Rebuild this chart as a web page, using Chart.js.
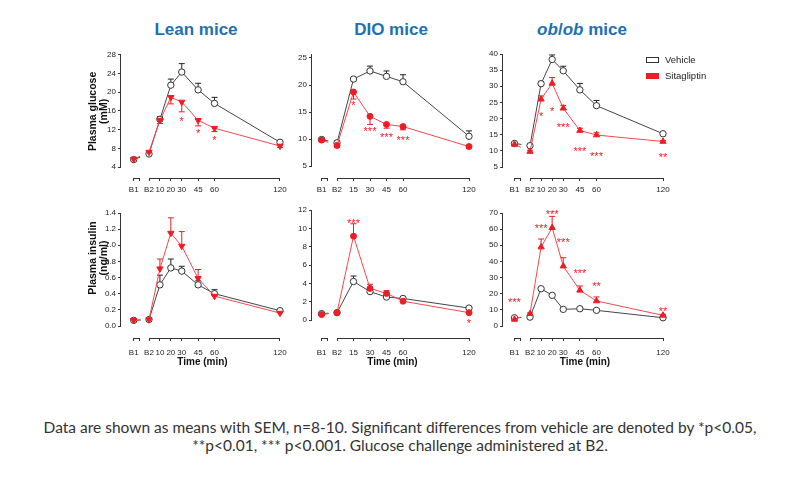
<!DOCTYPE html>
<html>
<head>
<meta charset="utf-8">
<script src="https://cdn.jsdelivr.net/npm/chart.js@4.4.1/dist/chart.umd.min.js"></script>
<style>
  body { margin: 0; width: 800px; height: 486px; background: #fff; position: relative; overflow: hidden; font-family: "Liberation Sans", Arial, sans-serif; }
  .head { position: absolute; top: 19px; width: 200px; text-align: center; font-weight: bold; font-size: 17px; line-height: 22px; color: #2070b4; }
  canvas { position: absolute; }
  .note { position: absolute; left: 0; top: 418px; width: 800px; text-align: center; font-family: Lato, sans-serif; font-size: 15.5px; line-height: 18px; color: #333; }
</style>
</head>
<body>
<div class="head" style="left:96px">Lean mice</div>
<div class="head" style="left:291px">DIO mice</div>
<div class="head" style="left:482px"><i>ob</i>/<i>ob</i> mice</div>

<canvas id="leanGlucose"></canvas>
<canvas id="dioGlucose"></canvas>
<canvas id="obGlucose"></canvas>
<canvas id="leanInsulin"></canvas>
<canvas id="dioInsulin"></canvas>
<canvas id="obInsulin"></canvas>

<div class="note">Data are shown as means with SEM, n=8-10. Significant differences from vehicle are denoted by *p&lt;0.05,<br>**p&lt;0.01, *** p&lt;0.001. Glucose challenge administered at B2.</div>

<script>
// time points (min), B1/B2 are baselines
const leanTimes = ['B1', 'B2', '10', '20', '30', '45', '60', '120'];
const dioTimes = ['B1', 'B2', '15', '30', '45', '60', '120'];
const obTimes = ['B1', 'B2', '10', '20', '30', '45', '60', '120'];

// plasma glucose (mM)
const leanGlucoseVehicle = [5.6, 6.8, 14.2, 21.5, 24.3, 20.5, 17.6, 9.3];
const leanGlucoseVehicleSem = [0.2, 0.3, 0.6, 1.3, 1.8, 1.4, 1.3, 0.4];
const leanGlucoseSita = [5.7, 7.2, 14.0, 18.9, 17.9, 14.0, 12.3, 8.5];
const leanGlucoseSitaSem = [0.2, 0.3, 0.7, 1.4, 2.1, 1.2, 0.7, 0.3];
const leanGlucoseStars = ['', '', '', '', '*', '*', '*', ''];
const leanGlucoseStarAt = [null, null, null, null, 14.3, 11.7, 10.3, null];

const dioGlucoseVehicle = [9.9, 9.3, 21.1, 22.6, 21.6, 20.6, 10.5];
const dioGlucoseVehicleSem = [0.3, 0.4, 0.3, 0.9, 1.0, 1.3, 1.0];
const dioGlucoseSita = [9.8, 8.8, 18.7, 14.2, 12.7, 12.3, 8.6];
const dioGlucoseSitaSem = [0.3, 0.3, 1.3, 1.5, 0.7, 0.6, 0.3];
const dioGlucoseStars = ['', '', '*', '***', '***', '***', ''];
const dioGlucoseStarAt = [null, null, 16.6, 11.8, 10.8, 10.1, null];

const obGlucoseVehicle = [12.3, 11.6, 30.8, 38.3, 34.8, 28.9, 24.0, 15.3];
const obGlucoseVehicleSem = [0.3, 0.4, 0.7, 1.4, 1.4, 2.0, 1.6, 0.3];
const obGlucoseSita = [12.0, 9.8, 26.0, 30.9, 23.2, 16.3, 14.9, 12.9];
const obGlucoseSitaSem = [0.3, 0.4, 1.0, 1.8, 0.9, 0.7, 0.7, 0.3];
const obGlucoseStars = ['', '', '*', '*', '***', '***', '***', '**'];
const obGlucoseStarAt = [null, null, 21.5, 22.9, 18.1, 10.7, 9.1, 8.6];

// plasma insulin (ng/ml)
const leanInsulinVehicle = [0.07, 0.08, 0.51, 0.72, 0.68, 0.51, 0.40, 0.19];
const leanInsulinVehicleSem = [0.01, 0.01, 0.12, 0.11, 0.06, 0.05, 0.05, 0.01];
const leanInsulinSita = [0.07, 0.08, 0.71, 1.15, 0.99, 0.59, 0.37, 0.16];
const leanInsulinSitaSem = [0.01, 0.01, 0.12, 0.19, 0.18, 0.11, 0.02, 0.01];
const leanInsulinStars = [];
const leanInsulinStarAt = [];

const dioInsulinVehicle = [0.7, 0.8, 4.2, 3.1, 2.5, 2.35, 1.3];
const dioInsulinVehicleSem = [0.1, 0.1, 0.6, 0.2, 0.2, 0.2, 0.1];
const dioInsulinSita = [0.6, 0.8, 9.15, 3.45, 2.9, 2.05, 0.8];
const dioInsulinSitaSem = [0.1, 0.1, 1.35, 0.45, 0.3, 0.1, 0.1];
const dioInsulinStars = ['', '', '***', '', '', '', '*'];
const dioInsulinStarAt = [null, null, 10.8, null, null, null, -0.1];

const obInsulinVehicle = [5.1, 5.5, 23.1, 19.0, 10.3, 10.7, 9.7, 5.1];
const obInsulinVehicleSem = [0.3, 0.3, 0.5, 0.8, 0.5, 0.5, 0.5, 0.3];
const obInsulinSita = [4.1, 7.6, 48.9, 60.9, 37.1, 22.1, 15.5, 6.6];
const obInsulinSitaSem = [0.5, 0.5, 5.0, 7.0, 5.2, 2.7, 2.5, 0.6];
const obInsulinStars = ['***', '', '***', '***', '***', '***', '**', '**'];
const obInsulinStarAt = [15.9, null, 61.7, 70.6, 53, 34, 25.8, 10.5];

// y tick labels
const leanGlucoseTicks = [4, 8, 12, 16, 20, 24, 28];
const dioGlucoseTicks = [5, 10, 15, 20, 25];
const obGlucoseTicks = [5, 10, 15, 20, 25, 30, 35, 40];
const leanInsulinTicks = [0, 0.2, 0.4, 0.6, 0.8, 1.0, 1.2, 1.4];
const dioInsulinTicks = [0, 2, 4, 6, 8, 10, 12];
const obInsulinTicks = [0, 10, 20, 30, 40, 50, 60, 70];

const B1_AT = -14;     // B1 sits left of the axis break
const B1_END = -8.5;   // end of the short B1 axis piece
const INK = '#333';
const VEH = '#444';
const RED = '#ee1c24';
const RED_LINE = '#f5484d';
const FONT = '"Liberation Sans", Arial, sans-serif';

function timeValue(t) {
  if (t === 'B1') return B1_AT;
  if (t === 'B2') return 0;
  return Number(t);
}

// error bars drawn under the markers
const errorBars = {
  id: 'errorBars',
  beforeDatasetsDraw(chart) {
    const { ctx, scales: { x, y } } = chart;
    chart.data.datasets.forEach(ds => {
      ctx.save();
      ctx.strokeStyle = ds.errColor;
      ctx.lineWidth = 1;
      ds.data.forEach((pt, i) => {
        const s = ds.sem[i];
        if (!s) return;
        const px = x.getPixelForValue(pt.x);
        const y0 = y.getPixelForValue(pt.y);
        const y1 = y.getPixelForValue(pt.y + ds.errDir * s);
        ctx.beginPath();
        ctx.moveTo(px, y0);
        ctx.lineTo(px, y1);
        ctx.moveTo(px - 3, y1);
        ctx.lineTo(px + 3, y1);
        ctx.stroke();
      });
      ctx.restore();
    });
  }
};

// significance stars
const stars = {
  id: 'stars',
  afterDatasetsDraw(chart) {
    const { ctx, scales: { x, y } } = chart;
    chart.data.datasets.forEach(ds => {
      if (!ds.stars) return;
      ctx.save();
      ctx.fillStyle = RED;
      ctx.font = '11px ' + FONT;
      ctx.textAlign = 'center';
      ctx.textBaseline = 'alphabetic';
      ds.stars.forEach((t, i) => {
        if (!t) return;
        ctx.fillText(t, x.getPixelForValue(ds.data[i].x), y.getPixelForValue(ds.starAt[i]) + 6);
      });
      ctx.restore();
    });
  }
};

// detached y axis and broken time axis
const axisLines = {
  id: 'axisLines',
  afterDraw(chart, args, opts) {
    const { ctx, chartArea, scales: { x, y } } = chart;
    const ax = Math.round(chartArea.left) - 0.5;
    const by = Math.round(chartArea.bottom) + 0.5;
    ctx.save();
    ctx.strokeStyle = INK;
    ctx.lineWidth = 1;
    ctx.beginPath();
    ctx.moveTo(ax, y.getPixelForValue(y.ticks[0].value));
    ctx.lineTo(ax, y.getPixelForValue(opts.topVal));
    ctx.moveTo(x.getPixelForValue(B1_AT), by);
    ctx.lineTo(x.getPixelForValue(B1_END), by);
    ctx.moveTo(x.getPixelForValue(0), by);
    ctx.lineTo(x.getPixelForValue(120), by);
    ctx.stroke();
    ctx.restore();
  }
};

// small legend beside the ob/ob glucose panel
const boxLegend = {
  id: 'boxLegend',
  afterDraw(chart, args, opts) {
    if (!opts || !opts.show) return;
    const { ctx, chartArea } = chart;
    const left = chartArea.right + opts.dx;
    ctx.save();
    ctx.font = '9.5px ' + FONT;
    ctx.textBaseline = 'middle';
    chart.data.datasets.forEach((ds, i) => {
      const cy = chartArea.top + opts.dy + i * 16;
      ctx.fillStyle = i === 0 ? '#fff' : RED;
      ctx.fillRect(left, cy - 3, 13, 6);
      if (i === 0) {
        ctx.strokeStyle = INK;
        ctx.strokeRect(left + 0.5, cy - 2.5, 12, 5);
      }
      ctx.fillStyle = '#222';
      ctx.fillText(ds.label, left + 19, cy);
    });
    ctx.restore();
  }
};

function panel(p) {
  const canvas = document.getElementById(p.id);
  const ppm = (p.px120 - p.px0) / 120;
  const ppu = (p.loPx - p.hiPx) / (p.hiVal - p.loVal);
  const areaTop = p.areaTop || p.topPx;
  const xTicks = p.times.map(timeValue).concat([B1_END]);
  canvas.width = p.yw + (p.right - p.axisX) + p.padRight;
  canvas.height = (p.axisY - p.top) + p.xh;
  canvas.style.left = (p.axisX - p.yw) + 'px';
  canvas.style.top = p.top + 'px';

  const dash = { borderDash: ctx => ctx.p0DataIndex === 0 ? [7, 400] : undefined };
  const pts = vals => p.times.map((t, i) => ({ x: timeValue(t), y: vals[i] }));

  return new Chart(canvas, {
    type: 'line',
    data: {
      datasets: [{
        label: 'Vehicle',
        data: pts(p.veh),
        sem: p.vehSem,
        errDir: 1,
        errColor: '#222',
        borderColor: VEH,
        borderWidth: 1,
        pointStyle: 'circle',
        pointRadius: 3.2,
        pointBorderWidth: 1,
        pointBorderColor: '#333',
        pointBackgroundColor: '#fff',
        order: 1,
        segment: dash
      }, {
        label: 'Sitagliptin',
        data: pts(p.sita),
        sem: p.sitaSem,
        errDir: p.sitaDir,
        errColor: RED,
        stars: p.stars,
        starAt: p.starAt,
        borderColor: RED_LINE,
        borderWidth: 1,
        pointStyle: p.shape,
        pointRotation: p.rotation || 0,
        pointRadius: p.shape === 'circle' ? 3 : 3.6,
        pointBorderWidth: 1,
        pointBorderColor: RED,
        pointBackgroundColor: RED,
        order: 0,
        segment: dash
      }]
    },
    options: {
      responsive: false,
      animation: false,
      events: [],
      layout: { padding: { left: 0, top: areaTop - p.top, right: p.padRight, bottom: 0 } },
      plugins: {
        legend: { display: false },
        tooltip: { enabled: false },
        axisLines: { topVal: p.hiVal + (p.hiPx - p.topPx) / ppu },
        boxLegend: { show: !!p.legend, dx: -21, dy: p.topPx - areaTop + 6 }
      },
      scales: {
        x: {
          type: 'linear',
          min: -(p.px0 - p.axisX) / ppm,
          max: (p.right - p.px0) / ppm,
          afterBuildTicks: s => { s.ticks = xTicks.map(v => ({ value: v })); },
          afterFit: s => { s.height = p.xh; },
          border: { display: false },
          grid: { drawOnChartArea: false, drawTicks: true, tickLength: 3, color: INK },
          ticks: {
            autoSkip: false,
            maxRotation: 0,
            padding: p.xPad,
            color: '#222',
            font: { family: FONT, size: 8 },
            callback: v => {
              const i = xTicks.indexOf(v);
              return i < p.times.length ? p.times[i] : '';
            }
          },
          title: {
            display: !!p.xTitle,
            text: p.xTitle,
            color: '#111',
            padding: { top: 0, bottom: 2 },
            font: { family: FONT, size: 10, weight: 'bold' }
          }
        },
        y: {
          min: p.loVal - (p.axisY - p.loPx) / ppu,
          max: p.hiVal + (p.hiPx - areaTop) / ppu,
          afterBuildTicks: s => { s.ticks = p.yTicks.map(v => ({ value: v })); },
          afterFit: s => { s.width = p.yw; },
          border: { display: false },
          grid: { drawOnChartArea: false, drawTicks: true, tickLength: 3, color: INK },
          ticks: {
            padding: 2,
            color: '#222',
            font: { family: FONT, size: 8 },
            callback: v => p.decimals ? v.toFixed(p.decimals) : v
          },
          title: {
            display: !!p.yTitle,
            text: p.yTitle,
            color: '#111',
            padding: { top: 7.5, bottom: 0 },
            font: { family: FONT, size: 10.5, weight: 'bold', lineHeight: 1.05 }
          }
        }
      }
    },
    plugins: [errorBars, stars, axisLines, boxLegend]
  });
}

const leanCol = { axisX: 121, px0: 149, px120: 280, right: 284 };
const dioCol = { axisX: 312, px0: 337, px120: 469, right: 473 };
const obCol = { axisX: 503, px0: 530, px120: 663, right: 667 };
const topRow = { top: 38, axisY: 178, xh: 22, xPad: 4 };
const bottomRow = { top: 198, axisY: 338, xh: 32, xPad: 7, xTitle: 'Time (min)' };

// the lean panels reach higher so their axis titles sit where the originals do
panel(Object.assign({}, leanCol, topRow, {
  id: 'leanGlucose', times: leanTimes, yw: 41, padRight: 8, areaTop: 44,
  veh: leanGlucoseVehicle, vehSem: leanGlucoseVehicleSem,
  sita: leanGlucoseSita, sitaSem: leanGlucoseSitaSem, sitaDir: -1,
  stars: leanGlucoseStars, starAt: leanGlucoseStarAt,
  shape: 'triangle', rotation: 180,
  yTicks: leanGlucoseTicks, hiVal: 28, hiPx: 54, loVal: 4, loPx: 167, topPx: 54,
  yTitle: ['Plasma glucose', '(mM)']
}));
panel(Object.assign({}, dioCol, topRow, {
  id: 'dioGlucose', times: dioTimes, yw: 28, padRight: 8,
  veh: dioGlucoseVehicle, vehSem: dioGlucoseVehicleSem,
  sita: dioGlucoseSita, sitaSem: dioGlucoseSitaSem, sitaDir: -1,
  stars: dioGlucoseStars, starAt: dioGlucoseStarAt,
  shape: 'circle',
  yTicks: dioGlucoseTicks, hiVal: 25, hiPx: 58, loVal: 5, loPx: 166, topPx: 54
}));
panel(Object.assign({}, obCol, topRow, {
  id: 'obGlucose', times: obTimes, yw: 28, padRight: 60, legend: true,
  veh: obGlucoseVehicle, vehSem: obGlucoseVehicleSem,
  sita: obGlucoseSita, sitaSem: obGlucoseSitaSem, sitaDir: 1,
  stars: obGlucoseStars, starAt: obGlucoseStarAt,
  shape: 'triangle',
  yTicks: obGlucoseTicks, hiVal: 40, hiPx: 54, loVal: 5, loPx: 167, topPx: 54
}));
panel(Object.assign({}, leanCol, bottomRow, {
  id: 'leanInsulin', times: leanTimes, yw: 41, padRight: 8, top: 170, areaTop: 178,
  veh: leanInsulinVehicle, vehSem: leanInsulinVehicleSem,
  sita: leanInsulinSita, sitaSem: leanInsulinSitaSem, sitaDir: 1,
  stars: leanInsulinStars, starAt: leanInsulinStarAt,
  shape: 'triangle', rotation: 180, decimals: 1,
  yTicks: leanInsulinTicks, hiVal: 1.4, hiPx: 213, loVal: 0, loPx: 326, topPx: 213,
  yTitle: ['Plasma insulin', '(ng/ml)']
}));
panel(Object.assign({}, dioCol, bottomRow, {
  id: 'dioInsulin', times: dioTimes, yw: 28, padRight: 8,
  veh: dioInsulinVehicle, vehSem: dioInsulinVehicleSem,
  sita: dioInsulinSita, sitaSem: dioInsulinSitaSem, sitaDir: 1,
  stars: dioInsulinStars, starAt: dioInsulinStarAt,
  shape: 'circle',
  yTicks: dioInsulinTicks, hiVal: 12, hiPx: 210, loVal: 0, loPx: 320, topPx: 210
}));
panel(Object.assign({}, obCol, bottomRow, {
  id: 'obInsulin', times: obTimes, yw: 28, padRight: 8,
  veh: obInsulinVehicle, vehSem: obInsulinVehicleSem,
  sita: obInsulinSita, sitaSem: obInsulinSitaSem, sitaDir: 1,
  stars: obInsulinStars, starAt: obInsulinStarAt,
  shape: 'triangle',
  yTicks: obInsulinTicks, hiVal: 70, hiPx: 213, loVal: 0, loPx: 326, topPx: 213
}));
</script>
</body>
</html>
